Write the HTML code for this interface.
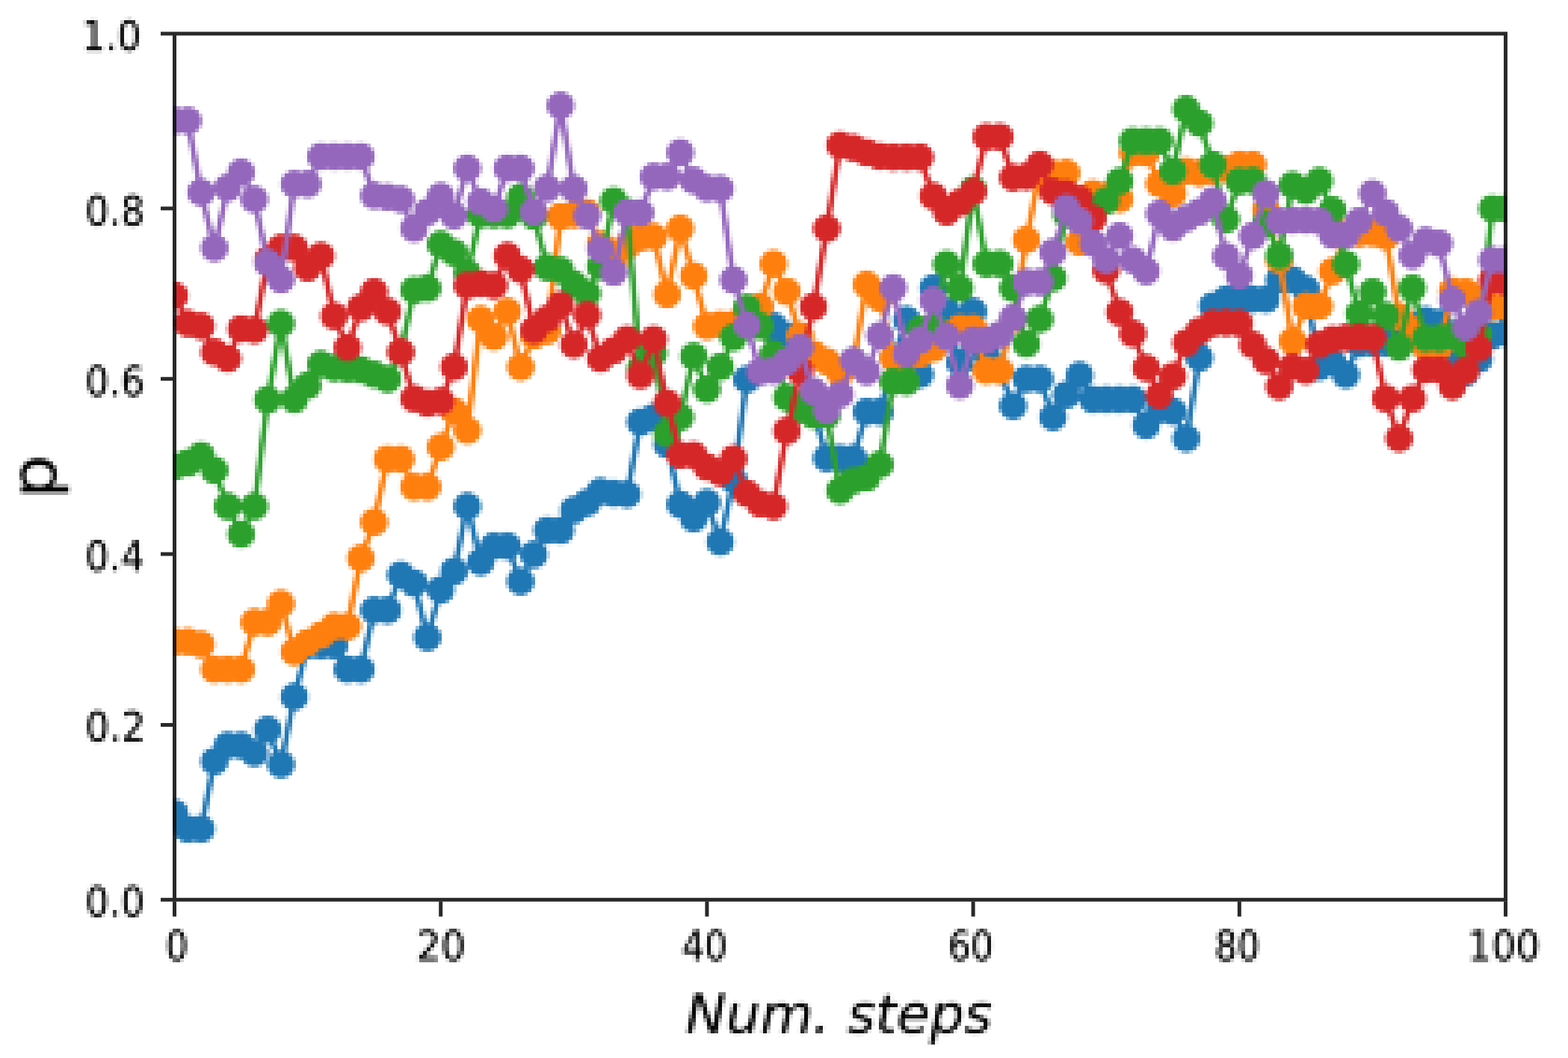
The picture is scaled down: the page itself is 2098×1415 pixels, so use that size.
<!DOCTYPE html>
<html lang="en"><head><meta charset="utf-8"><title>p vs Num. steps</title><style>html,body{margin:0;padding:0;background:#fff;}body{width:2098px;height:1415px;overflow:hidden;}svg{display:block;}text{font-family:"DejaVu Sans","Liberation Sans",sans-serif;fill:#000000;}</style></head><body><svg width="2098" height="1415" viewBox="0 0 2098 1415"><defs><clipPath id="ax"><rect x="232.5" y="45.0" width="1783.0" height="1158.3"/></clipPath><filter id="soft" x="0" y="0" width="2098" height="1415" filterUnits="userSpaceOnUse" color-interpolation-filters="sRGB"><feGaussianBlur in="SourceGraphic" stdDeviation="1.5" result="b"/><feFlood x="3" y="4" width="1" height="1" flood-color="#000000" result="dot"/><feComposite in="dot" in2="dot" operator="over" x="0" y="0" width="5" height="5" result="cell"/><feTile in="cell" x="0" y="0" width="2098" height="1415" result="grid"/><feComposite in="b" in2="grid" operator="in" result="samples"/><feMorphology in="samples" operator="dilate" radius="2" result="mosaic"/><feGaussianBlur in="mosaic" stdDeviation="0.7"/></filter><filter id="crisp" x="0" y="0" width="2098" height="1415" filterUnits="userSpaceOnUse"><feGaussianBlur stdDeviation="0.75"/></filter></defs><rect width="2098" height="1415" fill="#ffffff"/>
<g filter="url(#soft)">
<g clip-path="url(#ax)">
<g fill="#1f77b4" stroke="none">
<polyline points="233.5,1087.5 251.3,1108.6 269.1,1108.6 286.9,1018.1 304.7,997.0 322.6,997.0 340.4,1007.0 358.2,976.0 376.0,1022.3 393.8,931.9 411.6,863.2 429.4,863.2 447.2,863.2 465.0,895.4 482.8,895.4 500.6,816.1 518.5,816.1 536.3,768.9 554.1,780.1 571.9,852.5 589.7,788.8 607.5,764.0 625.3,677.2 643.1,751.6 660.9,730.5 678.8,730.5 696.6,777.6 714.4,741.7 732.2,709.4 750.0,709.4 767.8,682.2 785.6,672.3 803.4,657.4 821.2,659.9 839.0,661.1 856.9,564.4 874.7,558.2 892.5,594.2 910.3,674.7 928.1,693.3 945.9,672.3 963.7,724.8 981.5,641.3 999.3,507.4 1017.1,497.0 1035.0,436.3 1052.8,448.7 1070.6,461.1 1088.4,547.9 1106.2,612.8 1124.0,612.8 1141.8,612.8 1159.6,550.8 1177.4,550.8 1195.2,478.5 1213.0,427.6 1230.9,500.8 1248.7,385.5 1266.5,416.5 1284.3,485.0 1302.1,416.5 1319.9,473.5 1337.7,495.8 1355.5,542.9 1373.3,507.0 1391.2,507.0 1409.0,557.8 1426.8,528.0 1444.6,502.0 1462.4,534.2 1480.2,534.2 1498.0,534.2 1515.8,534.2 1533.6,568.9 1551.4,547.9 1569.2,550.3 1587.1,586.3 1604.9,478.5 1622.7,409.1 1640.5,400.4 1658.3,400.4 1676.1,400.4 1693.9,400.4 1711.7,374.4 1729.5,374.4 1747.3,386.7 1765.2,490.8 1783.0,484.7 1800.8,501.3 1818.6,459.9 1836.4,458.6 1854.2,458.6 1872.0,458.6 1889.8,438.8 1907.6,428.0 1925.5,432.0 1943.3,473.5 1961.1,498.3 1978.9,480.0 1996.7,448.7 2014.5,445.0" fill="none" stroke="#1f77b4" stroke-width="7.6" stroke-linejoin="round" stroke-linecap="butt"/>
<circle cx="233.5" cy="1087.5" r="18.6"/>
<circle cx="251.3" cy="1108.6" r="18.6"/>
<circle cx="269.1" cy="1108.6" r="18.6"/>
<circle cx="286.9" cy="1018.1" r="18.6"/>
<circle cx="304.7" cy="997.0" r="18.6"/>
<circle cx="322.6" cy="997.0" r="18.6"/>
<circle cx="340.4" cy="1007.0" r="18.6"/>
<circle cx="358.2" cy="976.0" r="18.6"/>
<circle cx="376.0" cy="1022.3" r="18.6"/>
<circle cx="393.8" cy="931.9" r="18.6"/>
<circle cx="411.6" cy="863.2" r="18.6"/>
<circle cx="429.4" cy="863.2" r="18.6"/>
<circle cx="447.2" cy="863.2" r="18.6"/>
<circle cx="465.0" cy="895.4" r="18.6"/>
<circle cx="482.8" cy="895.4" r="18.6"/>
<circle cx="500.6" cy="816.1" r="18.6"/>
<circle cx="518.5" cy="816.1" r="18.6"/>
<circle cx="536.3" cy="768.9" r="18.6"/>
<circle cx="554.1" cy="780.1" r="18.6"/>
<circle cx="571.9" cy="852.5" r="18.6"/>
<circle cx="589.7" cy="788.8" r="18.6"/>
<circle cx="607.5" cy="764.0" r="18.6"/>
<circle cx="625.3" cy="677.2" r="18.6"/>
<circle cx="643.1" cy="751.6" r="18.6"/>
<circle cx="660.9" cy="730.5" r="18.6"/>
<circle cx="678.8" cy="730.5" r="18.6"/>
<circle cx="696.6" cy="777.6" r="18.6"/>
<circle cx="714.4" cy="741.7" r="18.6"/>
<circle cx="732.2" cy="709.4" r="18.6"/>
<circle cx="750.0" cy="709.4" r="18.6"/>
<circle cx="767.8" cy="682.2" r="18.6"/>
<circle cx="785.6" cy="672.3" r="18.6"/>
<circle cx="803.4" cy="657.4" r="18.6"/>
<circle cx="821.2" cy="659.9" r="18.6"/>
<circle cx="839.0" cy="661.1" r="18.6"/>
<circle cx="856.9" cy="564.4" r="18.6"/>
<circle cx="874.7" cy="558.2" r="18.6"/>
<circle cx="892.5" cy="594.2" r="18.6"/>
<circle cx="910.3" cy="674.7" r="18.6"/>
<circle cx="928.1" cy="693.3" r="18.6"/>
<circle cx="945.9" cy="672.3" r="18.6"/>
<circle cx="963.7" cy="724.8" r="18.6"/>
<circle cx="981.5" cy="641.3" r="18.6"/>
<circle cx="999.3" cy="507.4" r="18.6"/>
<circle cx="1017.1" cy="497.0" r="18.6"/>
<circle cx="1035.0" cy="436.3" r="18.6"/>
<circle cx="1052.8" cy="448.7" r="18.6"/>
<circle cx="1070.6" cy="461.1" r="18.6"/>
<circle cx="1088.4" cy="547.9" r="18.6"/>
<circle cx="1106.2" cy="612.8" r="18.6"/>
<circle cx="1124.0" cy="612.8" r="18.6"/>
<circle cx="1141.8" cy="612.8" r="18.6"/>
<circle cx="1159.6" cy="550.8" r="18.6"/>
<circle cx="1177.4" cy="550.8" r="18.6"/>
<circle cx="1195.2" cy="478.5" r="18.6"/>
<circle cx="1213.0" cy="427.6" r="18.6"/>
<circle cx="1230.9" cy="500.8" r="18.6"/>
<circle cx="1248.7" cy="385.5" r="18.6"/>
<circle cx="1266.5" cy="416.5" r="18.6"/>
<circle cx="1284.3" cy="485.0" r="18.6"/>
<circle cx="1302.1" cy="416.5" r="18.6"/>
<circle cx="1319.9" cy="473.5" r="18.6"/>
<circle cx="1337.7" cy="495.8" r="18.6"/>
<circle cx="1355.5" cy="542.9" r="18.6"/>
<circle cx="1373.3" cy="507.0" r="18.6"/>
<circle cx="1391.2" cy="507.0" r="18.6"/>
<circle cx="1409.0" cy="557.8" r="18.6"/>
<circle cx="1426.8" cy="528.0" r="18.6"/>
<circle cx="1444.6" cy="502.0" r="18.6"/>
<circle cx="1462.4" cy="534.2" r="18.6"/>
<circle cx="1480.2" cy="534.2" r="18.6"/>
<circle cx="1498.0" cy="534.2" r="18.6"/>
<circle cx="1515.8" cy="534.2" r="18.6"/>
<circle cx="1533.6" cy="568.9" r="18.6"/>
<circle cx="1551.4" cy="547.9" r="18.6"/>
<circle cx="1569.2" cy="550.3" r="18.6"/>
<circle cx="1587.1" cy="586.3" r="18.6"/>
<circle cx="1604.9" cy="478.5" r="18.6"/>
<circle cx="1622.7" cy="409.1" r="18.6"/>
<circle cx="1640.5" cy="400.4" r="18.6"/>
<circle cx="1658.3" cy="400.4" r="18.6"/>
<circle cx="1676.1" cy="400.4" r="18.6"/>
<circle cx="1693.9" cy="400.4" r="18.6"/>
<circle cx="1711.7" cy="374.4" r="18.6"/>
<circle cx="1729.5" cy="374.4" r="18.6"/>
<circle cx="1747.3" cy="386.7" r="18.6"/>
<circle cx="1765.2" cy="490.8" r="18.6"/>
<circle cx="1783.0" cy="484.7" r="18.6"/>
<circle cx="1800.8" cy="501.3" r="18.6"/>
<circle cx="1818.6" cy="459.9" r="18.6"/>
<circle cx="1836.4" cy="458.6" r="18.6"/>
<circle cx="1854.2" cy="458.6" r="18.6"/>
<circle cx="1872.0" cy="458.6" r="18.6"/>
<circle cx="1889.8" cy="438.8" r="18.6"/>
<circle cx="1907.6" cy="428.0" r="18.6"/>
<circle cx="1925.5" cy="432.0" r="18.6"/>
<circle cx="1943.3" cy="473.5" r="18.6"/>
<circle cx="1961.1" cy="498.3" r="18.6"/>
<circle cx="1978.9" cy="480.0" r="18.6"/>
<circle cx="1996.7" cy="448.7" r="18.6"/>
<circle cx="2014.5" cy="445.0" r="18.6"/>
</g>
<g fill="#ff7f0e" stroke="none">
<polyline points="233.5,858.2 251.3,858.2 269.1,862.0 286.9,895.4 304.7,895.4 322.6,895.4 340.4,832.2 358.2,832.2 376.0,807.4 393.8,871.9 411.6,859.5 429.4,849.6 447.2,837.7 465.0,837.7 482.8,746.6 500.6,698.3 518.5,614.0 536.3,614.0 554.1,651.2 571.9,651.2 589.7,597.9 607.5,549.6 625.3,575.6 643.1,427.2 660.9,450.4 678.8,416.5 696.6,490.8 714.4,448.7 732.2,442.5 750.0,289.6 767.8,287.1 785.6,284.7 803.4,327.0 821.2,352.0 839.0,329.0 856.9,318.1 874.7,316.9 892.5,393.7 910.3,305.7 928.1,368.9 945.9,436.3 963.7,433.8 981.5,433.3 999.3,434.3 1017.1,409.8 1035.0,352.8 1052.8,390.0 1070.6,448.7 1088.4,473.5 1106.2,483.4 1124.0,498.3 1141.8,485.9 1159.6,380.6 1177.4,399.1 1195.2,478.5 1213.0,478.5 1230.9,473.5 1248.7,466.1 1266.5,448.7 1284.3,438.8 1302.1,438.8 1319.9,495.8 1337.7,495.8 1355.5,426.9 1373.3,320.6 1391.2,231.0 1409.0,232.0 1426.8,231.4 1444.6,323.8 1462.4,258.6 1480.2,261.9 1498.0,266.1 1515.8,204.5 1533.6,204.5 1551.4,245.8 1569.2,258.6 1587.1,228.9 1604.9,231.4 1622.7,228.9 1640.5,226.4 1658.3,220.2 1676.1,220.2 1693.9,280.9 1711.7,347.9 1729.5,456.1 1747.3,409.1 1765.2,409.1 1783.0,362.7 1800.8,312.4 1818.6,312.4 1836.4,311.9 1854.2,316.4 1872.0,423.0 1889.8,441.5 1907.6,463.8 1925.5,463.8 1943.3,389.2 1961.1,390.5 1978.9,399.1 1996.7,410.3 2014.5,410.3" fill="none" stroke="#ff7f0e" stroke-width="7.6" stroke-linejoin="round" stroke-linecap="butt"/>
<circle cx="233.5" cy="858.2" r="18.6"/>
<circle cx="251.3" cy="858.2" r="18.6"/>
<circle cx="269.1" cy="862.0" r="18.6"/>
<circle cx="286.9" cy="895.4" r="18.6"/>
<circle cx="304.7" cy="895.4" r="18.6"/>
<circle cx="322.6" cy="895.4" r="18.6"/>
<circle cx="340.4" cy="832.2" r="18.6"/>
<circle cx="358.2" cy="832.2" r="18.6"/>
<circle cx="376.0" cy="807.4" r="18.6"/>
<circle cx="393.8" cy="871.9" r="18.6"/>
<circle cx="411.6" cy="859.5" r="18.6"/>
<circle cx="429.4" cy="849.6" r="18.6"/>
<circle cx="447.2" cy="837.7" r="18.6"/>
<circle cx="465.0" cy="837.7" r="18.6"/>
<circle cx="482.8" cy="746.6" r="18.6"/>
<circle cx="500.6" cy="698.3" r="18.6"/>
<circle cx="518.5" cy="614.0" r="18.6"/>
<circle cx="536.3" cy="614.0" r="18.6"/>
<circle cx="554.1" cy="651.2" r="18.6"/>
<circle cx="571.9" cy="651.2" r="18.6"/>
<circle cx="589.7" cy="597.9" r="18.6"/>
<circle cx="607.5" cy="549.6" r="18.6"/>
<circle cx="625.3" cy="575.6" r="18.6"/>
<circle cx="643.1" cy="427.2" r="18.6"/>
<circle cx="660.9" cy="450.4" r="18.6"/>
<circle cx="678.8" cy="416.5" r="18.6"/>
<circle cx="696.6" cy="490.8" r="18.6"/>
<circle cx="714.4" cy="448.7" r="18.6"/>
<circle cx="732.2" cy="442.5" r="18.6"/>
<circle cx="750.0" cy="289.6" r="18.6"/>
<circle cx="767.8" cy="287.1" r="18.6"/>
<circle cx="785.6" cy="284.7" r="18.6"/>
<circle cx="803.4" cy="327.0" r="18.6"/>
<circle cx="821.2" cy="352.0" r="18.6"/>
<circle cx="839.0" cy="329.0" r="18.6"/>
<circle cx="856.9" cy="318.1" r="18.6"/>
<circle cx="874.7" cy="316.9" r="18.6"/>
<circle cx="892.5" cy="393.7" r="18.6"/>
<circle cx="910.3" cy="305.7" r="18.6"/>
<circle cx="928.1" cy="368.9" r="18.6"/>
<circle cx="945.9" cy="436.3" r="18.6"/>
<circle cx="963.7" cy="433.8" r="18.6"/>
<circle cx="981.5" cy="433.3" r="18.6"/>
<circle cx="999.3" cy="434.3" r="18.6"/>
<circle cx="1017.1" cy="409.8" r="18.6"/>
<circle cx="1035.0" cy="352.8" r="18.6"/>
<circle cx="1052.8" cy="390.0" r="18.6"/>
<circle cx="1070.6" cy="448.7" r="18.6"/>
<circle cx="1088.4" cy="473.5" r="18.6"/>
<circle cx="1106.2" cy="483.4" r="18.6"/>
<circle cx="1124.0" cy="498.3" r="18.6"/>
<circle cx="1141.8" cy="485.9" r="18.6"/>
<circle cx="1159.6" cy="380.6" r="18.6"/>
<circle cx="1177.4" cy="399.1" r="18.6"/>
<circle cx="1195.2" cy="478.5" r="18.6"/>
<circle cx="1213.0" cy="478.5" r="18.6"/>
<circle cx="1230.9" cy="473.5" r="18.6"/>
<circle cx="1248.7" cy="466.1" r="18.6"/>
<circle cx="1266.5" cy="448.7" r="18.6"/>
<circle cx="1284.3" cy="438.8" r="18.6"/>
<circle cx="1302.1" cy="438.8" r="18.6"/>
<circle cx="1319.9" cy="495.8" r="18.6"/>
<circle cx="1337.7" cy="495.8" r="18.6"/>
<circle cx="1355.5" cy="426.9" r="18.6"/>
<circle cx="1373.3" cy="320.6" r="18.6"/>
<circle cx="1391.2" cy="231.0" r="18.6"/>
<circle cx="1409.0" cy="232.0" r="18.6"/>
<circle cx="1426.8" cy="231.4" r="18.6"/>
<circle cx="1444.6" cy="323.8" r="18.6"/>
<circle cx="1462.4" cy="258.6" r="18.6"/>
<circle cx="1480.2" cy="261.9" r="18.6"/>
<circle cx="1498.0" cy="266.1" r="18.6"/>
<circle cx="1515.8" cy="204.5" r="18.6"/>
<circle cx="1533.6" cy="204.5" r="18.6"/>
<circle cx="1551.4" cy="245.8" r="18.6"/>
<circle cx="1569.2" cy="258.6" r="18.6"/>
<circle cx="1587.1" cy="228.9" r="18.6"/>
<circle cx="1604.9" cy="231.4" r="18.6"/>
<circle cx="1622.7" cy="228.9" r="18.6"/>
<circle cx="1640.5" cy="226.4" r="18.6"/>
<circle cx="1658.3" cy="220.2" r="18.6"/>
<circle cx="1676.1" cy="220.2" r="18.6"/>
<circle cx="1693.9" cy="280.9" r="18.6"/>
<circle cx="1711.7" cy="347.9" r="18.6"/>
<circle cx="1729.5" cy="456.1" r="18.6"/>
<circle cx="1747.3" cy="409.1" r="18.6"/>
<circle cx="1765.2" cy="409.1" r="18.6"/>
<circle cx="1783.0" cy="362.7" r="18.6"/>
<circle cx="1800.8" cy="312.4" r="18.6"/>
<circle cx="1818.6" cy="312.4" r="18.6"/>
<circle cx="1836.4" cy="311.9" r="18.6"/>
<circle cx="1854.2" cy="316.4" r="18.6"/>
<circle cx="1872.0" cy="423.0" r="18.6"/>
<circle cx="1889.8" cy="441.5" r="18.6"/>
<circle cx="1907.6" cy="463.8" r="18.6"/>
<circle cx="1925.5" cy="463.8" r="18.6"/>
<circle cx="1943.3" cy="389.2" r="18.6"/>
<circle cx="1961.1" cy="390.5" r="18.6"/>
<circle cx="1978.9" cy="399.1" r="18.6"/>
<circle cx="1996.7" cy="410.3" r="18.6"/>
<circle cx="2014.5" cy="410.3" r="18.6"/>
</g>
<g fill="#2ca02c" stroke="none">
<polyline points="233.5,623.9 251.3,619.0 269.1,609.1 286.9,628.9 304.7,677.2 322.6,714.4 340.4,677.2 358.2,534.7 376.0,432.6 393.8,534.2 411.6,515.6 429.4,487.1 447.2,492.1 465.0,493.3 482.8,494.6 500.6,500.8 518.5,507.0 536.3,471.0 554.1,388.0 571.9,385.5 589.7,326.8 607.5,337.9 625.3,365.0 643.1,286.8 660.9,287.0 678.8,287.1 696.6,263.6 714.4,289.0 732.2,357.8 750.0,361.5 767.8,380.1 785.6,392.5 803.4,356.5 821.2,268.5 839.0,283.0 856.9,493.0 874.7,472.3 892.5,580.1 910.3,557.8 928.1,476.5 945.9,520.6 963.7,490.8 981.5,451.2 999.3,411.5 1017.1,436.3 1035.0,473.5 1052.8,531.7 1070.6,547.9 1088.4,555.3 1106.2,555.3 1124.0,656.1 1141.8,642.5 1159.6,638.8 1177.4,621.4 1195.2,510.7 1213.0,510.7 1230.9,441.0 1248.7,436.0 1266.5,353.3 1284.3,385.5 1302.1,253.7 1319.9,352.8 1337.7,352.8 1355.5,385.5 1373.3,459.9 1391.2,426.9 1409.0,371.9 1426.8,286.7 1444.6,288.4 1462.4,285.0 1480.2,268.5 1498.0,242.5 1515.8,188.5 1533.6,188.5 1551.4,188.5 1569.2,228.9 1587.1,145.9 1604.9,164.9 1622.7,220.2 1640.5,293.3 1658.3,242.5 1676.1,241.8 1693.9,298.3 1711.7,341.7 1729.5,247.5 1747.3,254.9 1765.2,242.0 1783.0,280.9 1800.8,353.3 1818.6,419.7 1836.4,390.5 1854.2,422.2 1872.0,464.3 1889.8,385.5 1907.6,452.0 1925.5,452.0 1943.3,449.0 1961.1,461.1 1978.9,448.7 1996.7,279.0 2014.5,279.0" fill="none" stroke="#2ca02c" stroke-width="7.6" stroke-linejoin="round" stroke-linecap="butt"/>
<circle cx="233.5" cy="623.9" r="18.6"/>
<circle cx="251.3" cy="619.0" r="18.6"/>
<circle cx="269.1" cy="609.1" r="18.6"/>
<circle cx="286.9" cy="628.9" r="18.6"/>
<circle cx="304.7" cy="677.2" r="18.6"/>
<circle cx="322.6" cy="714.4" r="18.6"/>
<circle cx="340.4" cy="677.2" r="18.6"/>
<circle cx="358.2" cy="534.7" r="18.6"/>
<circle cx="376.0" cy="432.6" r="18.6"/>
<circle cx="393.8" cy="534.2" r="18.6"/>
<circle cx="411.6" cy="515.6" r="18.6"/>
<circle cx="429.4" cy="487.1" r="18.6"/>
<circle cx="447.2" cy="492.1" r="18.6"/>
<circle cx="465.0" cy="493.3" r="18.6"/>
<circle cx="482.8" cy="494.6" r="18.6"/>
<circle cx="500.6" cy="500.8" r="18.6"/>
<circle cx="518.5" cy="507.0" r="18.6"/>
<circle cx="536.3" cy="471.0" r="18.6"/>
<circle cx="554.1" cy="388.0" r="18.6"/>
<circle cx="571.9" cy="385.5" r="18.6"/>
<circle cx="589.7" cy="326.8" r="18.6"/>
<circle cx="607.5" cy="337.9" r="18.6"/>
<circle cx="625.3" cy="365.0" r="18.6"/>
<circle cx="643.1" cy="286.8" r="18.6"/>
<circle cx="660.9" cy="287.0" r="18.6"/>
<circle cx="678.8" cy="287.1" r="18.6"/>
<circle cx="696.6" cy="263.6" r="18.6"/>
<circle cx="714.4" cy="289.0" r="18.6"/>
<circle cx="732.2" cy="357.8" r="18.6"/>
<circle cx="750.0" cy="361.5" r="18.6"/>
<circle cx="767.8" cy="380.1" r="18.6"/>
<circle cx="785.6" cy="392.5" r="18.6"/>
<circle cx="803.4" cy="356.5" r="18.6"/>
<circle cx="821.2" cy="268.5" r="18.6"/>
<circle cx="839.0" cy="283.0" r="18.6"/>
<circle cx="856.9" cy="493.0" r="18.6"/>
<circle cx="874.7" cy="472.3" r="18.6"/>
<circle cx="892.5" cy="580.1" r="18.6"/>
<circle cx="910.3" cy="557.8" r="18.6"/>
<circle cx="928.1" cy="476.5" r="18.6"/>
<circle cx="945.9" cy="520.6" r="18.6"/>
<circle cx="963.7" cy="490.8" r="18.6"/>
<circle cx="981.5" cy="451.2" r="18.6"/>
<circle cx="999.3" cy="411.5" r="18.6"/>
<circle cx="1017.1" cy="436.3" r="18.6"/>
<circle cx="1035.0" cy="473.5" r="18.6"/>
<circle cx="1052.8" cy="531.7" r="18.6"/>
<circle cx="1070.6" cy="547.9" r="18.6"/>
<circle cx="1088.4" cy="555.3" r="18.6"/>
<circle cx="1106.2" cy="555.3" r="18.6"/>
<circle cx="1124.0" cy="656.1" r="18.6"/>
<circle cx="1141.8" cy="642.5" r="18.6"/>
<circle cx="1159.6" cy="638.8" r="18.6"/>
<circle cx="1177.4" cy="621.4" r="18.6"/>
<circle cx="1195.2" cy="510.7" r="18.6"/>
<circle cx="1213.0" cy="510.7" r="18.6"/>
<circle cx="1230.9" cy="441.0" r="18.6"/>
<circle cx="1248.7" cy="436.0" r="18.6"/>
<circle cx="1266.5" cy="353.3" r="18.6"/>
<circle cx="1284.3" cy="385.5" r="18.6"/>
<circle cx="1302.1" cy="253.7" r="18.6"/>
<circle cx="1319.9" cy="352.8" r="18.6"/>
<circle cx="1337.7" cy="352.8" r="18.6"/>
<circle cx="1355.5" cy="385.5" r="18.6"/>
<circle cx="1373.3" cy="459.9" r="18.6"/>
<circle cx="1391.2" cy="426.9" r="18.6"/>
<circle cx="1409.0" cy="371.9" r="18.6"/>
<circle cx="1426.8" cy="286.7" r="18.6"/>
<circle cx="1444.6" cy="288.4" r="18.6"/>
<circle cx="1462.4" cy="285.0" r="18.6"/>
<circle cx="1480.2" cy="268.5" r="18.6"/>
<circle cx="1498.0" cy="242.5" r="18.6"/>
<circle cx="1515.8" cy="188.5" r="18.6"/>
<circle cx="1533.6" cy="188.5" r="18.6"/>
<circle cx="1551.4" cy="188.5" r="18.6"/>
<circle cx="1569.2" cy="228.9" r="18.6"/>
<circle cx="1587.1" cy="145.9" r="18.6"/>
<circle cx="1604.9" cy="164.9" r="18.6"/>
<circle cx="1622.7" cy="220.2" r="18.6"/>
<circle cx="1640.5" cy="293.3" r="18.6"/>
<circle cx="1658.3" cy="242.5" r="18.6"/>
<circle cx="1676.1" cy="241.8" r="18.6"/>
<circle cx="1693.9" cy="298.3" r="18.6"/>
<circle cx="1711.7" cy="341.7" r="18.6"/>
<circle cx="1729.5" cy="247.5" r="18.6"/>
<circle cx="1747.3" cy="254.9" r="18.6"/>
<circle cx="1765.2" cy="242.0" r="18.6"/>
<circle cx="1783.0" cy="280.9" r="18.6"/>
<circle cx="1800.8" cy="353.3" r="18.6"/>
<circle cx="1818.6" cy="419.7" r="18.6"/>
<circle cx="1836.4" cy="390.5" r="18.6"/>
<circle cx="1854.2" cy="422.2" r="18.6"/>
<circle cx="1872.0" cy="464.3" r="18.6"/>
<circle cx="1889.8" cy="385.5" r="18.6"/>
<circle cx="1907.6" cy="452.0" r="18.6"/>
<circle cx="1925.5" cy="452.0" r="18.6"/>
<circle cx="1943.3" cy="449.0" r="18.6"/>
<circle cx="1961.1" cy="461.1" r="18.6"/>
<circle cx="1978.9" cy="448.7" r="18.6"/>
<circle cx="1996.7" cy="279.0" r="18.6"/>
<circle cx="2014.5" cy="279.0" r="18.6"/>
</g>
<g fill="#d62728" stroke="none">
<polyline points="233.5,395.4 251.3,432.6 269.1,436.3 286.9,471.0 304.7,479.7 322.6,440.0 340.4,441.3 358.2,347.8 376.0,331.7 393.8,331.7 411.6,358.2 429.4,342.1 447.2,422.7 465.0,464.8 482.8,411.5 500.6,390.5 518.5,416.5 536.3,471.0 554.1,533.0 571.9,539.2 589.7,536.7 607.5,490.8 625.3,381.8 643.1,379.3 660.9,381.8 678.8,342.1 696.6,360.7 714.4,441.3 732.2,426.4 750.0,407.8 767.8,461.1 785.6,421.4 803.4,479.7 821.2,468.5 839.0,453.7 856.9,502.0 874.7,453.7 892.5,539.2 910.3,608.6 928.1,608.6 945.9,624.7 963.7,632.1 981.5,613.5 999.3,659.9 1017.1,673.5 1035.0,677.2 1052.8,576.3 1070.6,495.8 1088.4,410.3 1106.2,305.7 1124.0,194.2 1141.8,197.9 1159.6,204.1 1177.4,209.1 1195.2,210.3 1213.0,210.3 1230.9,210.3 1248.7,262.3 1266.5,283.4 1284.3,271.0 1302.1,256.1 1319.9,183.0 1337.7,183.0 1355.5,237.6 1373.3,236.3 1391.2,220.2 1409.0,256.1 1426.8,258.6 1444.6,266.1 1462.4,292.0 1480.2,361.5 1498.0,417.7 1515.8,446.2 1533.6,492.1 1551.4,528.5 1569.2,503.2 1587.1,458.6 1604.9,442.5 1622.7,432.6 1640.5,431.9 1658.3,432.6 1676.1,461.1 1693.9,482.2 1711.7,516.9 1729.5,490.8 1747.3,495.8 1765.2,461.1 1783.0,453.7 1800.8,451.7 1818.6,450.7 1836.4,451.7 1854.2,533.0 1872.0,586.3 1889.8,533.0 1907.6,494.6 1925.5,494.6 1943.3,516.9 1961.1,495.8 1978.9,466.1 1996.7,375.0 2014.5,376.8" fill="none" stroke="#d62728" stroke-width="7.6" stroke-linejoin="round" stroke-linecap="butt"/>
<circle cx="233.5" cy="395.4" r="18.6"/>
<circle cx="251.3" cy="432.6" r="18.6"/>
<circle cx="269.1" cy="436.3" r="18.6"/>
<circle cx="286.9" cy="471.0" r="18.6"/>
<circle cx="304.7" cy="479.7" r="18.6"/>
<circle cx="322.6" cy="440.0" r="18.6"/>
<circle cx="340.4" cy="441.3" r="18.6"/>
<circle cx="358.2" cy="347.8" r="18.6"/>
<circle cx="376.0" cy="331.7" r="18.6"/>
<circle cx="393.8" cy="331.7" r="18.6"/>
<circle cx="411.6" cy="358.2" r="18.6"/>
<circle cx="429.4" cy="342.1" r="18.6"/>
<circle cx="447.2" cy="422.7" r="18.6"/>
<circle cx="465.0" cy="464.8" r="18.6"/>
<circle cx="482.8" cy="411.5" r="18.6"/>
<circle cx="500.6" cy="390.5" r="18.6"/>
<circle cx="518.5" cy="416.5" r="18.6"/>
<circle cx="536.3" cy="471.0" r="18.6"/>
<circle cx="554.1" cy="533.0" r="18.6"/>
<circle cx="571.9" cy="539.2" r="18.6"/>
<circle cx="589.7" cy="536.7" r="18.6"/>
<circle cx="607.5" cy="490.8" r="18.6"/>
<circle cx="625.3" cy="381.8" r="18.6"/>
<circle cx="643.1" cy="379.3" r="18.6"/>
<circle cx="660.9" cy="381.8" r="18.6"/>
<circle cx="678.8" cy="342.1" r="18.6"/>
<circle cx="696.6" cy="360.7" r="18.6"/>
<circle cx="714.4" cy="441.3" r="18.6"/>
<circle cx="732.2" cy="426.4" r="18.6"/>
<circle cx="750.0" cy="407.8" r="18.6"/>
<circle cx="767.8" cy="461.1" r="18.6"/>
<circle cx="785.6" cy="421.4" r="18.6"/>
<circle cx="803.4" cy="479.7" r="18.6"/>
<circle cx="821.2" cy="468.5" r="18.6"/>
<circle cx="839.0" cy="453.7" r="18.6"/>
<circle cx="856.9" cy="502.0" r="18.6"/>
<circle cx="874.7" cy="453.7" r="18.6"/>
<circle cx="892.5" cy="539.2" r="18.6"/>
<circle cx="910.3" cy="608.6" r="18.6"/>
<circle cx="928.1" cy="608.6" r="18.6"/>
<circle cx="945.9" cy="624.7" r="18.6"/>
<circle cx="963.7" cy="632.1" r="18.6"/>
<circle cx="981.5" cy="613.5" r="18.6"/>
<circle cx="999.3" cy="659.9" r="18.6"/>
<circle cx="1017.1" cy="673.5" r="18.6"/>
<circle cx="1035.0" cy="677.2" r="18.6"/>
<circle cx="1052.8" cy="576.3" r="18.6"/>
<circle cx="1070.6" cy="495.8" r="18.6"/>
<circle cx="1088.4" cy="410.3" r="18.6"/>
<circle cx="1106.2" cy="305.7" r="18.6"/>
<circle cx="1124.0" cy="194.2" r="18.6"/>
<circle cx="1141.8" cy="197.9" r="18.6"/>
<circle cx="1159.6" cy="204.1" r="18.6"/>
<circle cx="1177.4" cy="209.1" r="18.6"/>
<circle cx="1195.2" cy="210.3" r="18.6"/>
<circle cx="1213.0" cy="210.3" r="18.6"/>
<circle cx="1230.9" cy="210.3" r="18.6"/>
<circle cx="1248.7" cy="262.3" r="18.6"/>
<circle cx="1266.5" cy="283.4" r="18.6"/>
<circle cx="1284.3" cy="271.0" r="18.6"/>
<circle cx="1302.1" cy="256.1" r="18.6"/>
<circle cx="1319.9" cy="183.0" r="18.6"/>
<circle cx="1337.7" cy="183.0" r="18.6"/>
<circle cx="1355.5" cy="237.6" r="18.6"/>
<circle cx="1373.3" cy="236.3" r="18.6"/>
<circle cx="1391.2" cy="220.2" r="18.6"/>
<circle cx="1409.0" cy="256.1" r="18.6"/>
<circle cx="1426.8" cy="258.6" r="18.6"/>
<circle cx="1444.6" cy="266.1" r="18.6"/>
<circle cx="1462.4" cy="292.0" r="18.6"/>
<circle cx="1480.2" cy="361.5" r="18.6"/>
<circle cx="1498.0" cy="417.7" r="18.6"/>
<circle cx="1515.8" cy="446.2" r="18.6"/>
<circle cx="1533.6" cy="492.1" r="18.6"/>
<circle cx="1551.4" cy="528.5" r="18.6"/>
<circle cx="1569.2" cy="503.2" r="18.6"/>
<circle cx="1587.1" cy="458.6" r="18.6"/>
<circle cx="1604.9" cy="442.5" r="18.6"/>
<circle cx="1622.7" cy="432.6" r="18.6"/>
<circle cx="1640.5" cy="431.9" r="18.6"/>
<circle cx="1658.3" cy="432.6" r="18.6"/>
<circle cx="1676.1" cy="461.1" r="18.6"/>
<circle cx="1693.9" cy="482.2" r="18.6"/>
<circle cx="1711.7" cy="516.9" r="18.6"/>
<circle cx="1729.5" cy="490.8" r="18.6"/>
<circle cx="1747.3" cy="495.8" r="18.6"/>
<circle cx="1765.2" cy="461.1" r="18.6"/>
<circle cx="1783.0" cy="453.7" r="18.6"/>
<circle cx="1800.8" cy="451.7" r="18.6"/>
<circle cx="1818.6" cy="450.7" r="18.6"/>
<circle cx="1836.4" cy="451.7" r="18.6"/>
<circle cx="1854.2" cy="533.0" r="18.6"/>
<circle cx="1872.0" cy="586.3" r="18.6"/>
<circle cx="1889.8" cy="533.0" r="18.6"/>
<circle cx="1907.6" cy="494.6" r="18.6"/>
<circle cx="1925.5" cy="494.6" r="18.6"/>
<circle cx="1943.3" cy="516.9" r="18.6"/>
<circle cx="1961.1" cy="495.8" r="18.6"/>
<circle cx="1978.9" cy="466.1" r="18.6"/>
<circle cx="1996.7" cy="375.0" r="18.6"/>
<circle cx="2014.5" cy="376.8" r="18.6"/>
</g>
<g fill="#9467bd" stroke="none">
<polyline points="233.5,161.5 251.3,161.5 269.1,257.4 286.9,331.7 304.7,251.2 322.6,230.6 340.4,266.6 358.2,351.6 376.0,373.9 393.8,246.2 411.6,246.2 429.4,209.3 447.2,209.3 465.0,209.3 482.8,209.3 500.6,261.6 518.5,263.6 536.3,266.6 554.1,305.7 571.9,283.4 589.7,262.3 607.5,288.4 625.3,225.2 643.1,269.8 660.9,279.7 678.8,225.2 696.6,225.2 714.4,283.4 732.2,251.7 750.0,141.2 767.8,252.4 785.6,288.4 803.4,333.0 821.2,364.0 839.0,284.7 856.9,284.7 874.7,236.3 892.5,236.3 910.3,204.1 928.1,241.3 945.9,251.7 963.7,252.4 981.5,374.4 999.3,435.1 1017.1,497.0 1035.0,495.8 1052.8,483.4 1070.6,464.8 1088.4,523.1 1106.2,549.1 1124.0,527.5 1141.8,482.2 1159.6,497.0 1177.4,448.7 1195.2,385.0 1213.0,473.5 1230.9,454.9 1248.7,401.6 1266.5,450.0 1284.3,515.6 1302.1,454.9 1319.9,454.9 1337.7,447.5 1355.5,425.2 1373.3,377.3 1391.2,377.3 1409.0,337.2 1426.8,278.5 1444.6,295.8 1462.4,325.5 1480.2,347.9 1498.0,315.6 1515.8,347.9 1533.6,362.7 1551.4,285.9 1569.2,304.5 1587.1,292.1 1604.9,283.4 1622.7,268.5 1640.5,342.9 1658.3,368.4 1676.1,315.6 1693.9,258.6 1711.7,295.8 1729.5,294.6 1747.3,294.6 1765.2,295.8 1783.0,314.4 1800.8,314.4 1818.6,295.8 1836.4,258.6 1854.2,284.7 1872.0,305.7 1889.8,341.7 1907.6,321.8 1925.5,325.5 1943.3,401.1 1961.1,437.8 1978.9,418.0 1996.7,347.9 2014.5,347.9" fill="none" stroke="#9467bd" stroke-width="7.6" stroke-linejoin="round" stroke-linecap="butt"/>
<circle cx="233.5" cy="161.5" r="18.6"/>
<circle cx="251.3" cy="161.5" r="18.6"/>
<circle cx="269.1" cy="257.4" r="18.6"/>
<circle cx="286.9" cy="331.7" r="18.6"/>
<circle cx="304.7" cy="251.2" r="18.6"/>
<circle cx="322.6" cy="230.6" r="18.6"/>
<circle cx="340.4" cy="266.6" r="18.6"/>
<circle cx="358.2" cy="351.6" r="18.6"/>
<circle cx="376.0" cy="373.9" r="18.6"/>
<circle cx="393.8" cy="246.2" r="18.6"/>
<circle cx="411.6" cy="246.2" r="18.6"/>
<circle cx="429.4" cy="209.3" r="18.6"/>
<circle cx="447.2" cy="209.3" r="18.6"/>
<circle cx="465.0" cy="209.3" r="18.6"/>
<circle cx="482.8" cy="209.3" r="18.6"/>
<circle cx="500.6" cy="261.6" r="18.6"/>
<circle cx="518.5" cy="263.6" r="18.6"/>
<circle cx="536.3" cy="266.6" r="18.6"/>
<circle cx="554.1" cy="305.7" r="18.6"/>
<circle cx="571.9" cy="283.4" r="18.6"/>
<circle cx="589.7" cy="262.3" r="18.6"/>
<circle cx="607.5" cy="288.4" r="18.6"/>
<circle cx="625.3" cy="225.2" r="18.6"/>
<circle cx="643.1" cy="269.8" r="18.6"/>
<circle cx="660.9" cy="279.7" r="18.6"/>
<circle cx="678.8" cy="225.2" r="18.6"/>
<circle cx="696.6" cy="225.2" r="18.6"/>
<circle cx="714.4" cy="283.4" r="18.6"/>
<circle cx="732.2" cy="251.7" r="18.6"/>
<circle cx="750.0" cy="141.2" r="18.6"/>
<circle cx="767.8" cy="252.4" r="18.6"/>
<circle cx="785.6" cy="288.4" r="18.6"/>
<circle cx="803.4" cy="333.0" r="18.6"/>
<circle cx="821.2" cy="364.0" r="18.6"/>
<circle cx="839.0" cy="284.7" r="18.6"/>
<circle cx="856.9" cy="284.7" r="18.6"/>
<circle cx="874.7" cy="236.3" r="18.6"/>
<circle cx="892.5" cy="236.3" r="18.6"/>
<circle cx="910.3" cy="204.1" r="18.6"/>
<circle cx="928.1" cy="241.3" r="18.6"/>
<circle cx="945.9" cy="251.7" r="18.6"/>
<circle cx="963.7" cy="252.4" r="18.6"/>
<circle cx="981.5" cy="374.4" r="18.6"/>
<circle cx="999.3" cy="435.1" r="18.6"/>
<circle cx="1017.1" cy="497.0" r="18.6"/>
<circle cx="1035.0" cy="495.8" r="18.6"/>
<circle cx="1052.8" cy="483.4" r="18.6"/>
<circle cx="1070.6" cy="464.8" r="18.6"/>
<circle cx="1088.4" cy="523.1" r="18.6"/>
<circle cx="1106.2" cy="549.1" r="18.6"/>
<circle cx="1124.0" cy="527.5" r="18.6"/>
<circle cx="1141.8" cy="482.2" r="18.6"/>
<circle cx="1159.6" cy="497.0" r="18.6"/>
<circle cx="1177.4" cy="448.7" r="18.6"/>
<circle cx="1195.2" cy="385.0" r="18.6"/>
<circle cx="1213.0" cy="473.5" r="18.6"/>
<circle cx="1230.9" cy="454.9" r="18.6"/>
<circle cx="1248.7" cy="401.6" r="18.6"/>
<circle cx="1266.5" cy="450.0" r="18.6"/>
<circle cx="1284.3" cy="515.6" r="18.6"/>
<circle cx="1302.1" cy="454.9" r="18.6"/>
<circle cx="1319.9" cy="454.9" r="18.6"/>
<circle cx="1337.7" cy="447.5" r="18.6"/>
<circle cx="1355.5" cy="425.2" r="18.6"/>
<circle cx="1373.3" cy="377.3" r="18.6"/>
<circle cx="1391.2" cy="377.3" r="18.6"/>
<circle cx="1409.0" cy="337.2" r="18.6"/>
<circle cx="1426.8" cy="278.5" r="18.6"/>
<circle cx="1444.6" cy="295.8" r="18.6"/>
<circle cx="1462.4" cy="325.5" r="18.6"/>
<circle cx="1480.2" cy="347.9" r="18.6"/>
<circle cx="1498.0" cy="315.6" r="18.6"/>
<circle cx="1515.8" cy="347.9" r="18.6"/>
<circle cx="1533.6" cy="362.7" r="18.6"/>
<circle cx="1551.4" cy="285.9" r="18.6"/>
<circle cx="1569.2" cy="304.5" r="18.6"/>
<circle cx="1587.1" cy="292.1" r="18.6"/>
<circle cx="1604.9" cy="283.4" r="18.6"/>
<circle cx="1622.7" cy="268.5" r="18.6"/>
<circle cx="1640.5" cy="342.9" r="18.6"/>
<circle cx="1658.3" cy="368.4" r="18.6"/>
<circle cx="1676.1" cy="315.6" r="18.6"/>
<circle cx="1693.9" cy="258.6" r="18.6"/>
<circle cx="1711.7" cy="295.8" r="18.6"/>
<circle cx="1729.5" cy="294.6" r="18.6"/>
<circle cx="1747.3" cy="294.6" r="18.6"/>
<circle cx="1765.2" cy="295.8" r="18.6"/>
<circle cx="1783.0" cy="314.4" r="18.6"/>
<circle cx="1800.8" cy="314.4" r="18.6"/>
<circle cx="1818.6" cy="295.8" r="18.6"/>
<circle cx="1836.4" cy="258.6" r="18.6"/>
<circle cx="1854.2" cy="284.7" r="18.6"/>
<circle cx="1872.0" cy="305.7" r="18.6"/>
<circle cx="1889.8" cy="341.7" r="18.6"/>
<circle cx="1907.6" cy="321.8" r="18.6"/>
<circle cx="1925.5" cy="325.5" r="18.6"/>
<circle cx="1943.3" cy="401.1" r="18.6"/>
<circle cx="1961.1" cy="437.8" r="18.6"/>
<circle cx="1978.9" cy="418.0" r="18.6"/>
<circle cx="1996.7" cy="347.9" r="18.6"/>
<circle cx="2014.5" cy="347.9" r="18.6"/>
</g>
</g>
<text transform="translate(221.58,1283.90) scale(0.9167,1.0500)" font-size="52" font-style="normal" stroke="#000000" stroke-width="0.40" stroke-linejoin="round">0</text>
<text transform="translate(556.90,1283.90) scale(1.0000,1.0500)" font-size="52" font-style="normal" stroke="#000000" stroke-width="0.40" stroke-linejoin="round">20</text>
<text transform="translate(912.28,1283.90) scale(0.9183,1.0500)" font-size="52" font-style="normal" stroke="#000000" stroke-width="0.40" stroke-linejoin="round">40</text>
<text transform="translate(1268.79,1283.90) scale(0.9100,1.0500)" font-size="52" font-style="normal" stroke="#000000" stroke-width="0.40" stroke-linejoin="round">60</text>
<text transform="translate(1625.18,1283.90) scale(0.9167,1.0500)" font-size="52" font-style="normal" stroke="#000000" stroke-width="0.40" stroke-linejoin="round">80</text>
<text transform="translate(1963.53,1283.90) scale(0.9789,1.0500)" font-size="52" font-style="normal" stroke="#000000" stroke-width="0.40" stroke-linejoin="round">100</text>
<text transform="translate(114.24,1225.19) scale(0.9575,1.0550)" font-size="52" font-style="normal" stroke="#000000" stroke-width="0.40" stroke-linejoin="round">0.0</text>
<text transform="translate(114.23,991.39) scale(0.9733,1.0550)" font-size="52" font-style="normal" stroke="#000000" stroke-width="0.40" stroke-linejoin="round">0.2</text>
<text transform="translate(114.24,762.89) scale(0.9575,1.0550)" font-size="52" font-style="normal" stroke="#000000" stroke-width="0.40" stroke-linejoin="round">0.4</text>
<text transform="translate(114.24,528.59) scale(0.9575,1.0550)" font-size="52" font-style="normal" stroke="#000000" stroke-width="0.40" stroke-linejoin="round">0.6</text>
<text transform="translate(114.24,300.69) scale(0.9575,1.0550)" font-size="52" font-style="normal" stroke="#000000" stroke-width="0.40" stroke-linejoin="round">0.8</text>
<text transform="translate(109.45,66.89) scale(0.9587,1.0550)" font-size="52" font-style="normal" stroke="#000000" stroke-width="0.40" stroke-linejoin="round">1.0</text>
<text transform="translate(917.51,1380.79) scale(0.9902,0.9771)" font-size="73" font-style="italic" stroke="#000000" stroke-width="0.40" stroke-linejoin="round">Num. steps</text>
<text transform="translate(74.36,667.05) scale(1.1527,1.2686) rotate(-90)" font-size="73" font-style="normal" stroke="#000000" stroke-width="0.40" stroke-linejoin="round">p</text>
</g>
<g filter="url(#crisp)" stroke="#000000" stroke-opacity="0.84" stroke-width="5.0" fill="none">
<line x1="233.5" y1="1205.8" x2="233.5" y2="1225.8"/>
<line x1="589.7" y1="1205.8" x2="589.7" y2="1225.8"/>
<line x1="945.9" y1="1205.8" x2="945.9" y2="1225.8"/>
<line x1="1302.1" y1="1205.8" x2="1302.1" y2="1225.8"/>
<line x1="1658.3" y1="1205.8" x2="1658.3" y2="1225.8"/>
<line x1="2014.5" y1="1205.8" x2="2014.5" y2="1225.8"/>
<line x1="215.0" y1="1203.3" x2="231.0" y2="1203.3"/>
<line x1="215.0" y1="969.5" x2="231.0" y2="969.5"/>
<line x1="215.0" y1="741.0" x2="231.0" y2="741.0"/>
<line x1="215.0" y1="506.7" x2="231.0" y2="506.7"/>
<line x1="215.0" y1="278.8" x2="231.0" y2="278.8"/>
<line x1="215.0" y1="45.0" x2="231.0" y2="45.0"/>
<rect x="233.5" y="45.0" width="1781.0" height="1158.3" stroke-linejoin="miter"/>
</g>
</svg></body></html>
